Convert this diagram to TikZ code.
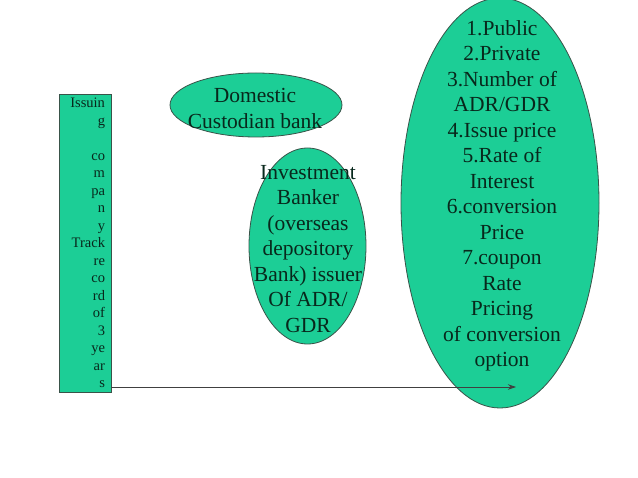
\documentclass[tikz,border=0pt]{standalone}
\usepackage{fontspec}
\setmainfont{Liberation Serif}
\usetikzlibrary{shapes.geometric, arrows.meta}
\definecolor{slidegreen}{RGB}{28,206,150}
\definecolor{inkgreen}{RGB}{8,40,28}
\tikzset{
    boxed/.style={draw=inkgreen!80, fill=slidegreen, rectangle, line width=0.8pt, inner sep=0pt, text=inkgreen},
    oval/.style={draw=inkgreen!80, fill=slidegreen, ellipse, line width=0.8pt, inner sep=0pt},
    ovaltext/.style={align=center, text=inkgreen, inner sep=0pt, font=\fontsize{21.5}{25.5}\selectfont},
    link/.style={-{Stealth[length=8pt,width=5.5pt]}, draw=black!75, line width=0.8pt} }

\begin{document}
\begin{tikzpicture}[x=1pt, y=-1pt]
			\useasboundingbox (0,0) rectangle (638,478);
			\node[boxed, minimum width=52pt, minimum height=298pt, inner xsep=6pt,
			      text width=40pt, align=right, font=\fontsize{14.5}{17.5}\selectfont] (issuer) at (85,243)
			    {Issuin\\g\\[17.5pt]co\\m\\pa\\n\\y\\Track\\re\\co\\rd\\of\\3\\ye\\ar\\s};
			% ----
			\node[oval, minimum width=172pt, minimum height=64pt] (custodian) at (256,105) {};
			\node[ovaltext] (custodian-text) at (255,108.5) {Domestic\\Custodian bank};
			\node[oval, minimum width=117pt, minimum height=196pt] (banker) at (307.5,246) {};
			\node[ovaltext] (banker-text) at (308,249)
			    {Investment\\Banker\\(overseas\\depository\\Bank) issuer\\Of ADR/\\GDR};
			\node[oval, minimum width=198pt, minimum height=410pt] (terms) at (500,203) {};
			\node[ovaltext] (terms-text) at (502,196)
			    {1.Public\\2.Private\\3.Number of\\ADR/GDR\\4.Issue price\\5.Rate of\\Interest\\
			     6.conversion\\Price\\7.coupon\\Rate\\Pricing\\of conversion\\option};
			% ----
			\coordinate (arrowend) at (516,387);
			\draw[link] (issuer.east |- arrowend) -- (arrowend);
		\end{tikzpicture}
\end{document}
